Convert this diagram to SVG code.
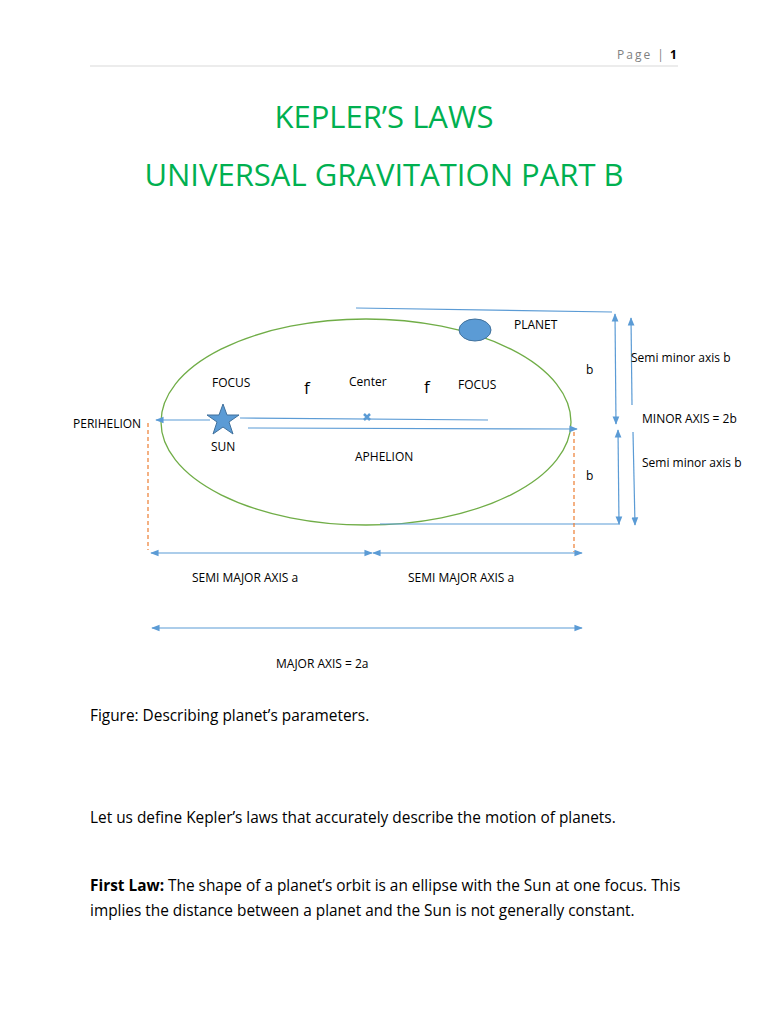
<svg xmlns="http://www.w3.org/2000/svg" width="768" height="1024" viewBox="0 0 768 1024">
<style>
.s{font-family:"Open Sans","Liberation Sans",sans-serif;font-size:12px;fill:#000}
.b{font-family:"Open Sans","Liberation Sans",sans-serif;font-size:15.4px;fill:#000}
.t{font-family:"Open Sans","Liberation Sans",sans-serif;font-size:31px;fill:#00b050;text-anchor:middle}
.ln{stroke:#5b9bd5;stroke-width:1.2;fill:none}
.dash{stroke:#ed7d31;stroke-width:1.2;stroke-dasharray:4,3;fill:none}
</style>
<defs>
<marker id="a" viewBox="0 0 10 10" refX="9" refY="5" markerWidth="7" markerHeight="7" orient="auto-start-reverse"><path d="M0,1L10,5L0,9z" fill="#5b9bd5"/></marker>
</defs>
<rect width="768" height="1024" fill="#fff"/>
<text x="617" y="59" style="font-family:'Open Sans',sans-serif;font-size:12px;fill:#7f7f7f;letter-spacing:2px">Page |</text>
<text x="670" y="59" style="font-family:'Open Sans',sans-serif;font-size:12px;font-weight:bold">1</text>
<line x1="90" y1="66" x2="678" y2="66" stroke="#d9d9d9"/>
<text class="t" x="384" y="128">KEPLER’S LAWS</text>
<text class="t" x="384" y="186">UNIVERSAL GRAVITATION PART B</text>
<g id="orbit"><ellipse cx="366" cy="422" rx="205" ry="103" fill="none" stroke="#70ad47" stroke-width="1.3"/></g>
<g id="planet"><ellipse cx="475" cy="330" rx="16" ry="11" fill="#5b9bd5" stroke="#41719c"/></g>
<g id="sun"><polygon points="223,404 227,415 239,415 229,422 233,434 223,427 213,434 217,422 207,415 219,415" fill="#5b9bd5" stroke="#41719c"/></g>
<g id="center"><path d="M364,414l6,6M370,414l-6,6" stroke="#5b9bd5" stroke-width="2.5"/></g>
<g id="connectors">
<line class="ln" x1="210" y1="420" x2="156" y2="420" marker-end="url(#a)"/>
<line class="ln" x1="240" y1="418" x2="488" y2="420"/>
<line class="ln" x1="248" y1="428" x2="577" y2="429" marker-end="url(#a)"/>
<line class="ln" x1="356" y1="308" x2="612" y2="312"/>
<line class="ln" x1="380" y1="524" x2="620" y2="524"/>
<line class="ln" x1="615" y1="314" x2="616" y2="424" marker-start="url(#a)" marker-end="url(#a)"/>
<line class="ln" x1="618" y1="430" x2="619" y2="524" marker-start="url(#a)" marker-end="url(#a)"/>
<line class="ln" x1="631" y1="318" x2="632" y2="405" marker-start="url(#a)"/>
<line class="ln" x1="633" y1="432" x2="635" y2="525" marker-end="url(#a)"/>
<line class="dash" x1="148" y1="423" x2="148" y2="550"/>
<line class="dash" x1="574" y1="432" x2="574" y2="552"/>
<line class="ln" x1="151" y1="553" x2="372" y2="553" marker-start="url(#a)" marker-end="url(#a)"/>
<line class="ln" x1="373" y1="553" x2="582" y2="553" marker-start="url(#a)" marker-end="url(#a)"/>
<line class="ln" x1="152" y1="628" x2="582" y2="628" marker-start="url(#a)" marker-end="url(#a)"/>
</g>
<g id="labels">
<text class="s" x="514" y="329">PLANET</text>
<text class="s" x="212" y="387">FOCUS</text>
<text x="304" y="394" style="font-family:'Open Sans',sans-serif;font-size:17px">f</text>
<text class="s" x="349" y="386">Center</text>
<text x="424" y="393" style="font-family:'Open Sans',sans-serif;font-size:17px">f</text>
<text class="s" x="458" y="389">FOCUS</text>
<text class="s" x="73" y="428">PERIHELION</text>
<text class="s" x="211" y="451">SUN</text>
<text class="s" x="355" y="461">APHELION</text>
<text class="s" x="586" y="374">b</text>
<text class="s" x="586" y="480">b</text>
<text class="s" x="631" y="362">Semi minor axis b</text>
<text class="s" x="642" y="423">MINOR AXIS = 2b</text>
<text class="s" x="642" y="467">Semi minor axis b</text>
<text class="s" x="192" y="582">SEMI MAJOR AXIS a</text>
<text class="s" x="408" y="582">SEMI MAJOR AXIS a</text>
<text class="s" x="276" y="668">MAJOR AXIS = 2a</text>
</g>
<text class="b" x="90" y="721">Figure: Describing planet’s parameters.</text>
<text class="b" x="90" y="823">Let us define Kepler’s laws that accurately describe the motion of planets.</text>
<text class="b" x="90" y="891"><tspan font-weight="bold">First Law:</tspan> The shape of a planet’s orbit is an ellipse with the Sun at one focus. This</text>
<text class="b" x="90" y="916">implies the distance between a planet and the Sun is not generally constant.</text>
</svg>
